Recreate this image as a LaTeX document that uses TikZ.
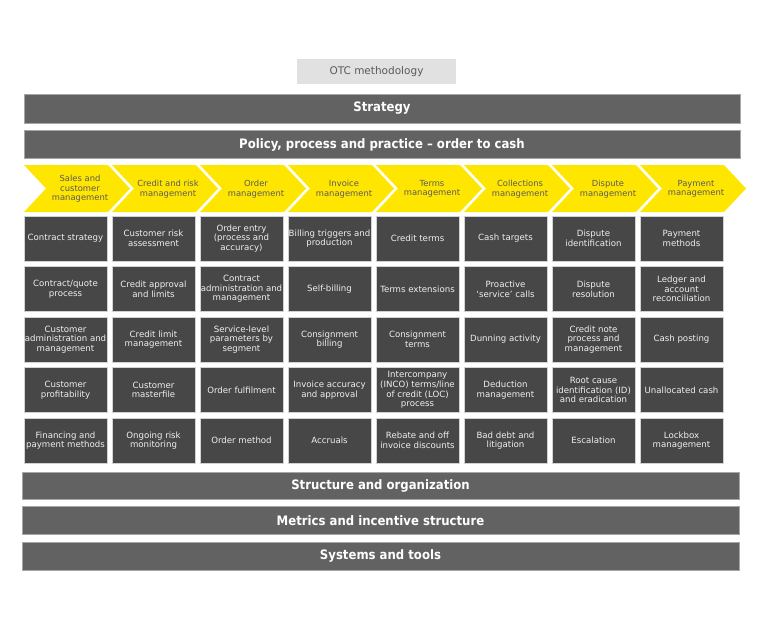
\documentclass[tikz,border=0pt]{standalone}
\usepackage{fontspec}
\setmainfont{DejaVu Sans}
\newfontfamily\barfont{DejaVu Sans Condensed}
\usetikzlibrary{positioning}
\definecolor{barGray}{HTML}{626262}
\definecolor{cellGray}{HTML}{474747}
\definecolor{eyYellow}{HTML}{FFE600}
\definecolor{textGray}{HTML}{5A5A5A}
\definecolor{titleGray}{HTML}{E1E1E1}

\begin{document}
\begin{tikzpicture}[
    x=1pt, y=-1pt,
    bar/.style={fill=barGray, draw=gray!70, line width=0.6pt, text=white,
        font=\barfont\bfseries\fontsize{13}{15}\selectfont,
        minimum width=716pt, minimum height=28pt, inner sep=0pt},
    cell/.style={fill=cellGray, draw=gray!35, line width=0.8pt, text=white!94!black,
        font=\fontsize{8.6}{9.6}\selectfont, align=center,
        minimum width=83pt, minimum height=45pt, inner sep=0pt},
    phase/.style={text=textGray, font=\fontsize{8.4}{9.5}\selectfont, align=center}
]
\useasboundingbox (0,0) rectangle (768,618);

% Title
\node[fill=titleGray, text=textGray, minimum width=159pt, minimum height=25pt,
    font=\fontsize{10.5}{12}\selectfont] (title) at (376.5,71.5) {OTC methodology};

% Top bars
\node[bar, minimum height=29pt] (strategy) at (382,108.5) {Strategy};
\node[bar, below=7pt of strategy] (policy) {Policy, process and practice – order to cash};

% Phase chevrons
\foreach \name [count=\i] in {{Sales and\\customer\\management}, {Credit and risk\\management},
    {Order\\management}, {Invoice\\management}, {Terms\\management},
    {Collections\\management}, {Dispute\\management}, {Payment\\management}} {
  \pgfmathsetmacro{\L}{24+(\i-1)*88}
  \fill[eyYellow] (\L,165) -- ++(84,0) -- ++(22,23.5) -- ++(-22,23.5) -- ++(-84,0)
      -- ++(22,-23.5) -- cycle;
  \node[phase] (phase-\i) at (\L+56,189) {\name};
}

% Activity cells, one column per phase
\foreach \items [count=\c] in {
    {{Contract strategy}, {Contract/quote\\process}, {Customer\\administration and\\management},
     {Customer\\profitability}, {Financing and\\payment methods}},
    {{Customer risk\\assessment}, {Credit approval\\and limits}, {Credit limit\\management},
     {Customer\\masterfile}, {Ongoing risk\\monitoring}},
    {{Order entry\\(process and\\accuracy)}, {Contract\\administration and\\management},
     {Service-level\\parameters by\\segment}, {Order fulfilment}, {Order method}},
    {{Billing triggers and\\production}, {Self-billing}, {Consignment\\billing},
     {Invoice accuracy\\and approval}, {Accruals}},
    {{Credit terms}, {Terms extensions}, {Consignment\\terms},
     {Intercompany\\(INCO) terms/line\\of credit (LOC)\\process}, {Rebate and off\\invoice discounts}},
    {{Cash targets}, {Proactive\\‘service’ calls}, {Dunning activity},
     {Deduction\\management}, {Bad debt and\\litigation}},
    {{Dispute\\identification}, {Dispute\\resolution}, {Credit note\\process and\\management},
     {Root cause\\identification (ID)\\and eradication}, {Escalation}},
    {{Payment\\methods}, {Ledger and\\account\\reconciliation}, {Cash posting},
     {Unallocated cash}, {Lockbox\\management}}} {
  \foreach \t [count=\r] in \items {
    \node[cell] (cell-\c-\r) at ({65.5+(\c-1)*88},{238.5+(\r-1)*50.5}) {\t};
  }
}

% Bottom bars
\node[bar, minimum width=717pt, minimum height=27pt] (structure) at (380.5,485.5) {Structure and organization};
\node[bar, minimum width=717pt, below=7pt of structure] (metrics) {Metrics and incentive structure};
\node[bar, minimum width=717pt, below=7pt of metrics] (systems) {Systems and tools};

\end{tikzpicture}
\end{document}
